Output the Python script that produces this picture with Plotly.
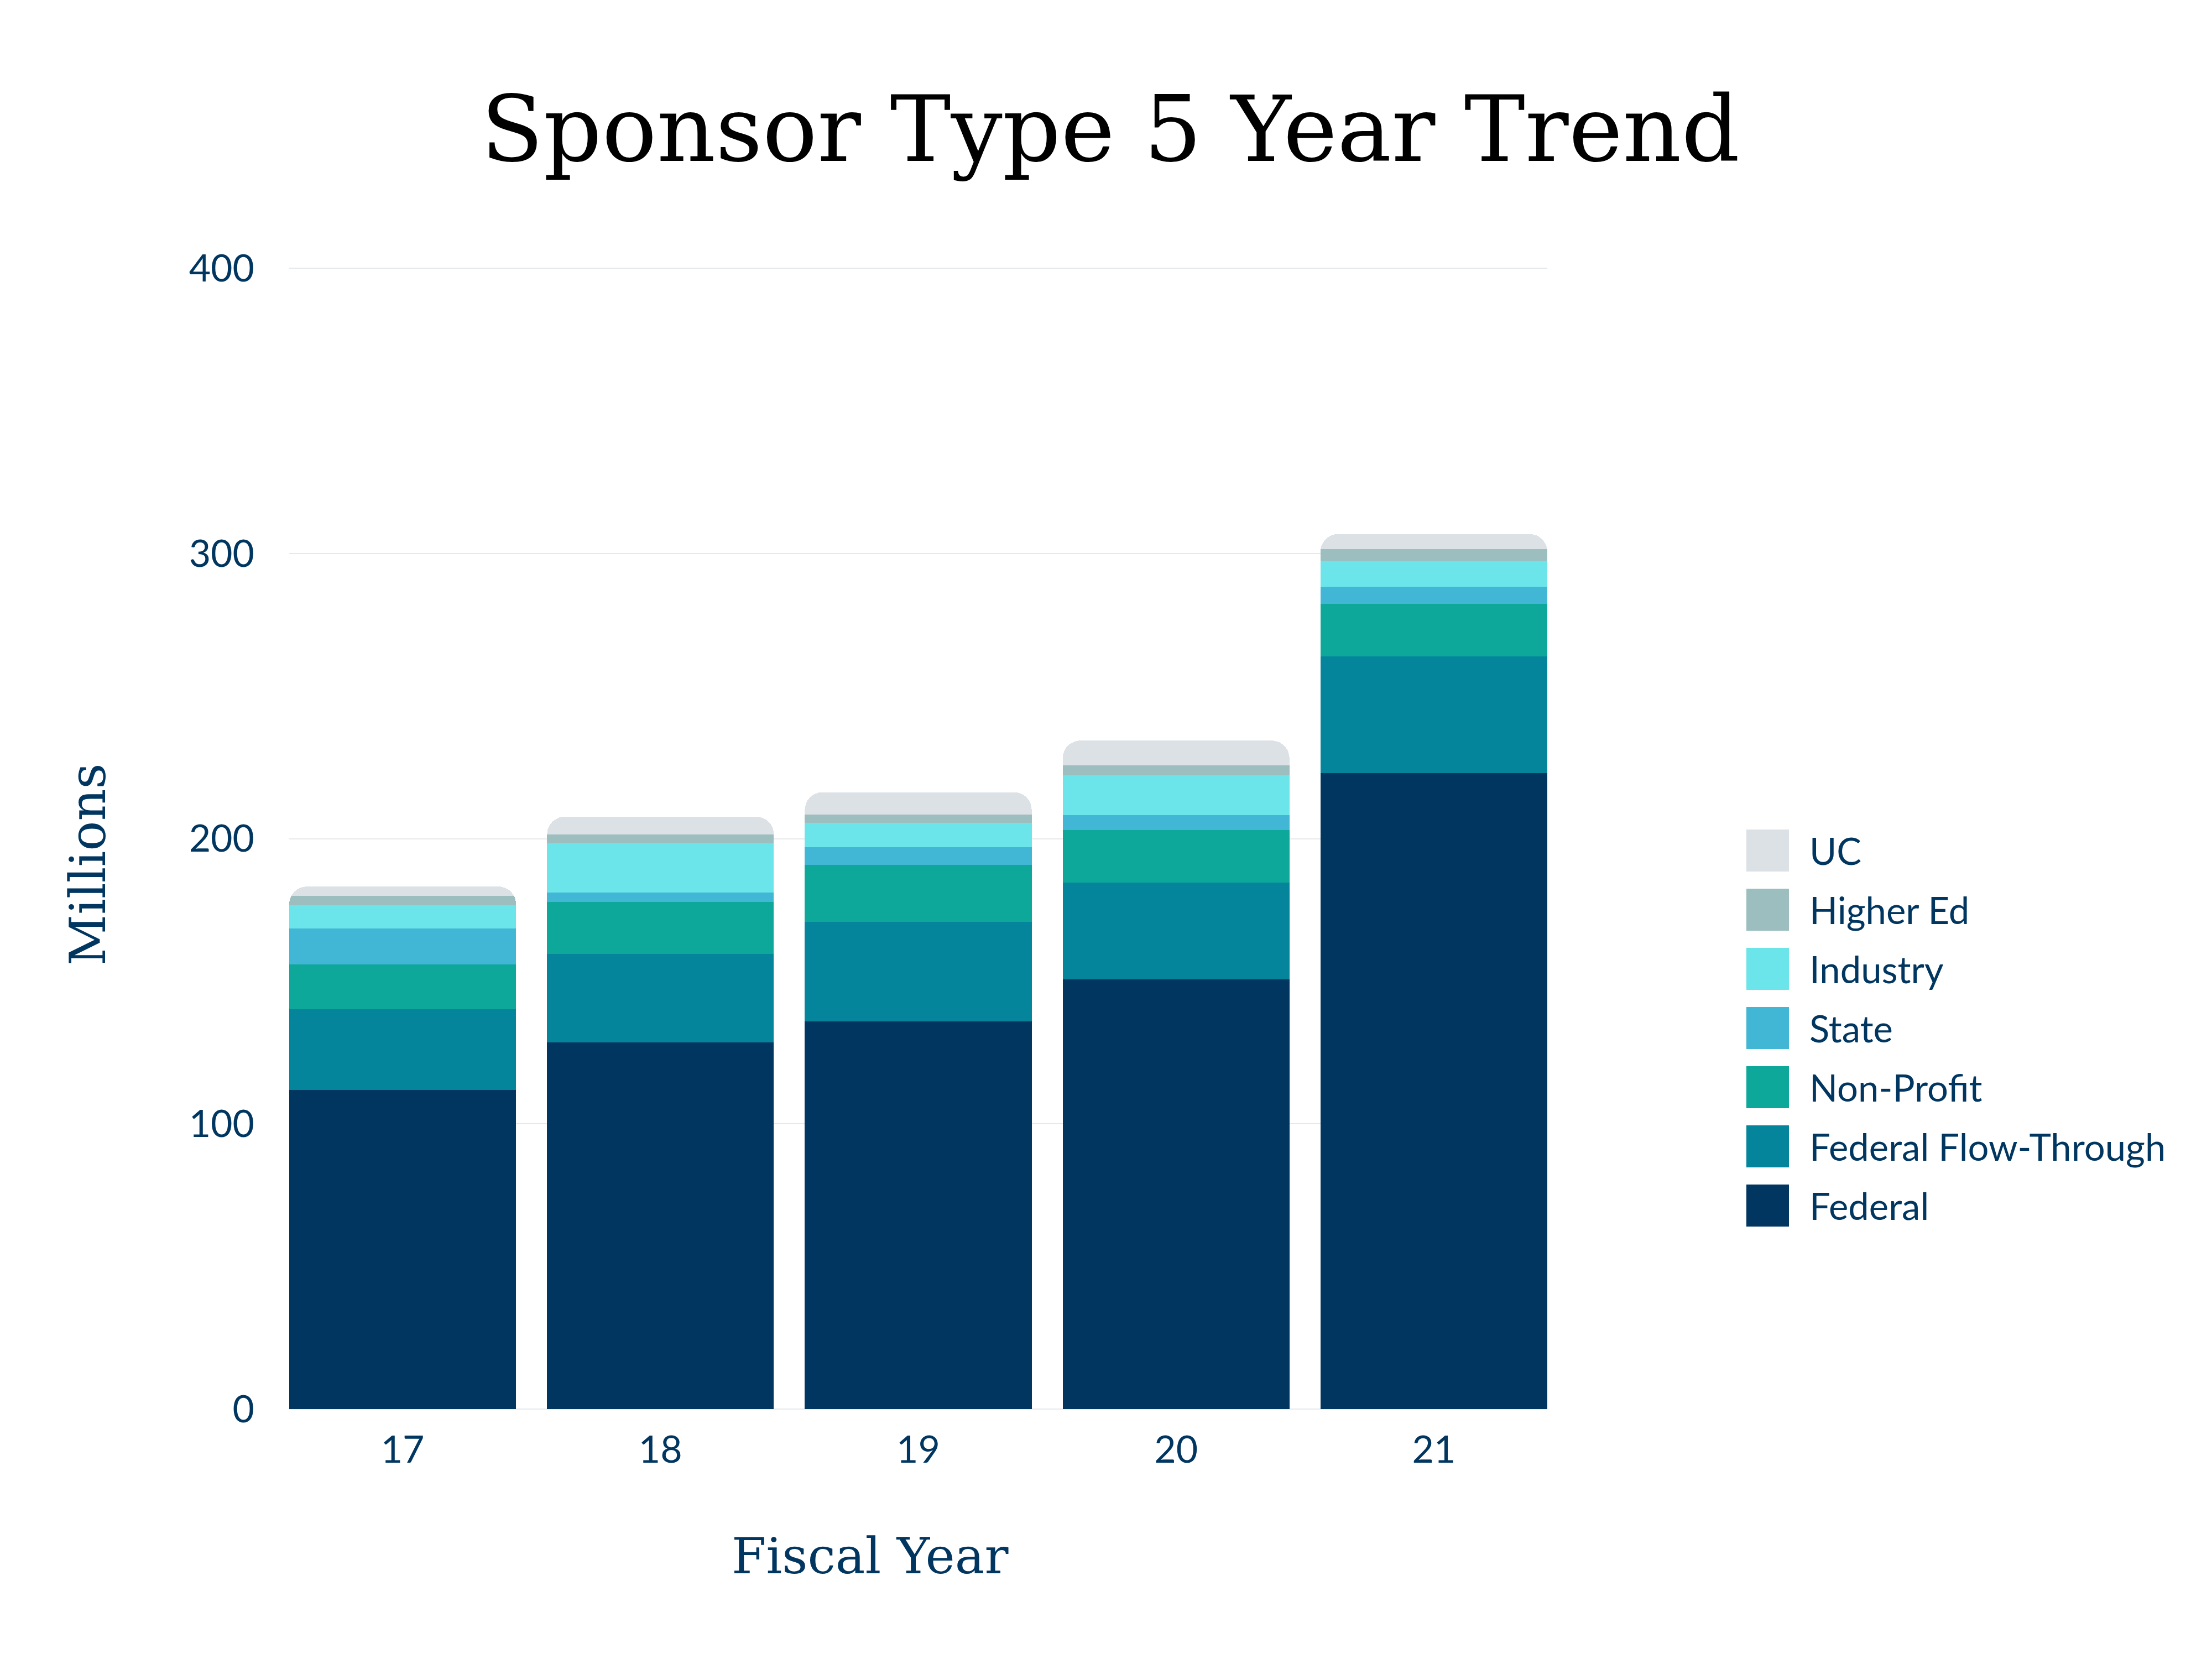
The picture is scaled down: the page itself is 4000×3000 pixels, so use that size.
import plotly.graph_objects as go

# fiscal years and sponsor funding, millions
years = ["17", "18", "19", "20", "21"]
federal = [111.9, 128.6, 135.9, 150.7, 223.0]
federal_flow = [28.3, 31.0, 35.0, 33.9, 41.0]
non_profit = [15.7, 18.3, 20.0, 18.4, 18.3]
state = [12.6, 3.2, 6.2, 5.3, 6.0]
industry = [8.2, 17.3, 8.5, 13.9, 9.1]
higher_ed = [3.2, 3.1, 2.8, 3.5, 4.2]
uc = [3.3, 6.2, 7.9, 8.7, 5.2]

names = ["Federal", "Federal Flow-Through", "Non-Profit", "State",
         "Industry", "Higher Ed", "UC"]
series = [federal, federal_flow, non_profit, state, industry, higher_ed, uc]
colors = ["#003660", "#04859b", "#0da89a", "#42b6d5",
          "#6ce5ea", "#9cbebe", "#dce1e5"]

navy = "#003660"
W, H = 4000, 3000
L, R, T, B = 515, 1210, 472, 460
pw, ph = W - L - R, H - T - B


def px_x(x):
    return (x - L) / pw


def px_y(y):
    return (H - B - y) / ph


fig = go.Figure()
for name, vals, col in zip(names, series, colors):
    fig.add_trace(go.Bar(x=years, y=vals, name=name,
                         marker=dict(color=col, line=dict(width=0)),
                         showlegend=False))

# legend drawn by hand so the swatches can be large
for i, (name, col) in enumerate(zip(names[::-1], colors[::-1])):
    yc = 1530 + i * 107
    fig.add_shape(type="rect", xref="paper", yref="paper",
                  x0=px_x(3150), x1=px_x(3227),
                  y0=px_y(yc + 38), y1=px_y(yc - 38),
                  fillcolor=col, line=dict(width=0))
    fig.add_annotation(text=name, xref="paper", yref="paper",
                       x=px_x(3262), y=px_y(yc), xanchor="left", yanchor="middle",
                       showarrow=False,
                       font=dict(family="Lato", size=67, color=navy))

fig.add_annotation(text="Millions", xref="paper", yref="paper",
                   x=px_x(150), y=px_y(1555), textangle=-90,
                   xanchor="center", yanchor="middle", showarrow=False,
                   font=dict(family="DejaVu Serif", size=90, color=navy))
fig.add_annotation(text="Fiscal Year", xref="paper", yref="paper",
                   x=px_x(1565), y=px_y(2805),
                   xanchor="center", yanchor="middle", showarrow=False,
                   font=dict(family="DejaVu Serif", size=90, color=navy))

fig.update_layout(
    width=W, height=H,
    margin=dict(l=L, r=R, t=T, b=B),
    paper_bgcolor="white", plot_bgcolor="white",
    barmode="stack", bargap=0.12, barcornerradius=32,
    title=dict(text="Sponsor Type 5 Year Trend", x=0.5, xanchor="center",
               y=1 - 225 / H, yanchor="middle",
               font=dict(family="DejaVu Serif", size=165, color="black")),
    xaxis=dict(range=[-0.44, 4.44], showgrid=False, zeroline=False,
               showline=False, ticks="", ticklabelstandoff=28,
               tickfont=dict(family="Lato", size=68, color=navy)),
    yaxis=dict(range=[0, 401], dtick=100, showgrid=True, gridcolor="#e6e9ec",
               gridwidth=2, zeroline=True, zerolinecolor="#e6e9ec", zerolinewidth=2,
               showline=False, ticks="", ticklabelstandoff=62,
               tickfont=dict(family="Lato", size=68, color=navy)),
)

fig.write_html("out.html")
